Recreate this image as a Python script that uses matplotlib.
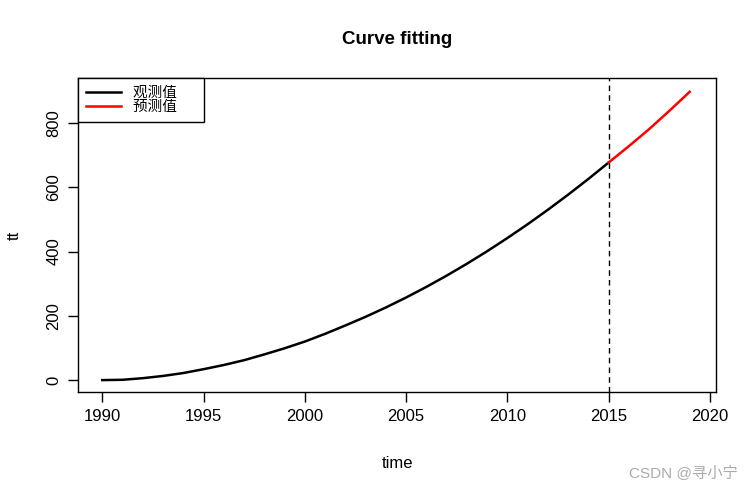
import matplotlib
matplotlib.use("Agg")
import matplotlib.pyplot as plt
import numpy as np

plt.rcParams['font.family'] = ['Liberation Sans', 'Noto Sans CJK SC', 'DejaVu Sans']

# observed series, 1990-2015
obs_years = list(range(1990, 2016))
obs_vals = [0, 1, 6, 13, 22, 34, 47, 62, 80, 99, 120, 144, 170, 197, 226,
            257, 290, 325, 362, 401, 442, 485, 530, 577, 626, 677]
# predicted series, 2015-2019
pred_years = [2015, 2016, 2017, 2018, 2019]
pred_vals = [677, 728, 781, 838, 897]

xticks = [1990, 1995, 2000, 2005, 2010, 2015, 2020]
yticks = [0, 200, 400, 600, 800]

fig = plt.figure(figsize=(7.55, 4.9), dpi=100)
ax = fig.add_axes([78/755, 98/490, 638/755, 314/490])

ax.plot(obs_years, obs_vals, color='black', lw=1.8, label='观测值')
ax.plot(pred_years, pred_vals, color='red', lw=1.8, label='预测值')
ax.axvline(2015, color='black', lw=1, ls=(0, (4, 3)))

ax.set_xlim(1988.8, 2020.3)
ax.set_ylim(-37, 940)
ax.set_xticks(xticks)
ax.set_yticks(yticks)
ax.tick_params(direction='out', length=7, width=1, labelsize=12, pad=5)
for lab in ax.get_yticklabels():
    lab.set_rotation(90)
    lab.set_va('center')
for s in ax.spines.values():
    s.set_linewidth(1)

ax.set_xlabel('time', fontsize=12, labelpad=23)
ax.set_ylabel('tt', fontsize=12, labelpad=18)
fig.text(0.5 * (78 + 716) / 755, 1 - 40/490, 'Curve fitting', ha='center', va='center',
         fontsize=13.5, fontweight='bold')

# trailing spaces widen the legend box like R's legend()
leg = ax.legend(loc='upper left', bbox_to_anchor=(0, 1), borderaxespad=0,
                fancybox=False, edgecolor='black', framealpha=1,
                handlelength=2.4, handletextpad=0.8, labelspacing=0.0, borderpad=0.55,
                prop={'family': ['Noto Sans CJK SC', 'DejaVu Sans'], 'size': 10.5})
leg.get_frame().set_linewidth(1)
for t in leg.get_texts():
    t.set_text(t.get_text() + '      ')

fig.text(738/755, 1 - 473/490, 'CSDN @寻小宁', ha='right', va='center',
         fontsize=11, color='#aaaaaa', family=['Liberation Sans', 'Noto Sans CJK SC'])

fig.savefig('out.png', dpi=100)
